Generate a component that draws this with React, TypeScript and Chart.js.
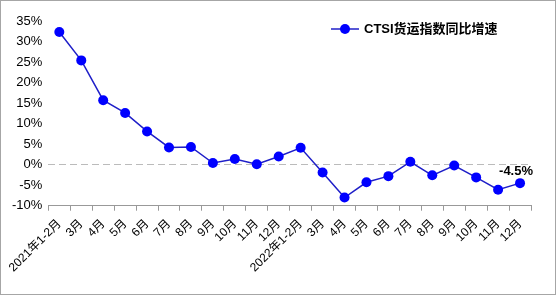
import React, { useEffect, useRef } from "react";
import { Chart, registerables } from "chart.js";
Chart.register(...registerables);

const categories = [
  "2021年1-2月", "3月", "4月", "5月", "6月", "7月", "8月", "9月", "10月", "11月", "12月",
  "2022年1-2月", "3月", "4月", "5月", "6月", "7月", "8月", "9月", "10月", "11月", "12月",
];
const growth = [
  32.3, 25.4, 15.7, 12.6, 8.1, 4.2, 4.3, 0.4, 1.4, 0.1, 2.0,
  4.1, -1.9, -8.0, -4.3, -2.8, 0.7, -2.6, -0.2, -3.1, -6.1, -4.5,
];
const yMin = -10;
const yMax = 35;
const yStep = 5;
const seriesName = "CTSI货运指数同比增速";
const lastLabel = "-4.5%";

const FONT = "Arial, 'Liberation Sans', 'Noto Sans CJK SC', sans-serif";

export default function App() {
  const ref = useRef<HTMLCanvasElement | null>(null);
  useEffect(() => {
    const canvas = ref.current!;
    const overlay = {
      id: "overlay",
      afterDraw(chart: any) {
        const ctx = chart.ctx;
        const area = chart.chartArea;
        ctx.save();
        // legend
        const lx = area.right - 200;
        const ly = 28;
        ctx.strokeStyle = "#1f1fc8";
        ctx.lineWidth = 1.5;
        ctx.beginPath();
        ctx.moveTo(lx, ly);
        ctx.lineTo(lx + 28, ly);
        ctx.stroke();
        ctx.fillStyle = "#0000ff";
        ctx.beginPath();
        ctx.arc(lx + 14, ly, 5, 0, Math.PI * 2);
        ctx.fill();
        ctx.fillStyle = "#000";
        ctx.font = `bold 13px ${FONT}`;
        ctx.textAlign = "left";
        ctx.textBaseline = "middle";
        ctx.fillText(seriesName, lx + 33, ly);
        // last value label
        const meta = chart.getDatasetMeta(0);
        const pt = meta.data[meta.data.length - 1];
        ctx.textAlign = "center";
        ctx.textBaseline = "middle";
        ctx.font = `bold 13px ${FONT}`;
        ctx.fillText(lastLabel, pt.x - 4, pt.y - 12);
        ctx.restore();
      },
    };
    const chart = new Chart(canvas, {
      type: "line",
      data: {
        labels: categories,
        datasets: [
          {
            label: seriesName,
            data: growth,
            borderColor: "#1f1fc8",
            borderWidth: 1.5,
            pointRadius: 5,
            pointBackgroundColor: "#0000ff",
            pointBorderColor: "#0000ff",
            pointBorderWidth: 0,
            tension: 0,
          },
        ],
      },
      options: {
        responsive: false,
        animation: false,
        layout: { padding: { top: 20, left: 5, right: 24, bottom: 13 } },
        plugins: { legend: { display: false }, tooltip: { enabled: false } },
        scales: {
          x: {
            type: "category",
            offset: true,
            grid: {
              offset: true,
              drawOnChartArea: false,
              drawTicks: true,
              tickLength: 5,
              color: "#999",
            },
            border: { display: true, color: "#999" },
            ticks: {
              autoSkip: false,
              maxRotation: 45,
              minRotation: 45,
              color: "#000",
              font: { size: 12, family: FONT },
              padding: 6,
            },
          },
          y: {
            min: yMin,
            max: yMax,
            grid: {
              drawTicks: false,
              color: (c: any) => (c.tick && c.tick.value === 0 ? "#bbb" : "rgba(0,0,0,0)"),
              lineWidth: 1,
            },
            border: { display: false, dash: [7, 4] },
            ticks: {
              stepSize: yStep,
              color: "#000",
              font: { size: 13, family: FONT },
              padding: 6,
              callback: (v: any) => `${v}%`,
            },
          },
        },
      },
      plugins: [overlay],
    });
    return () => chart.destroy();
  }, []);
  return (
    <div
      style={{
        position: "absolute",
        left: 0,
        top: 0,
        width: 556,
        height: 295,
        boxSizing: "border-box",
        border: "1px solid #a6a6a6",
        background: "#fff",
      }}
    >
      <canvas ref={ref} width={554} height={293} style={{ display: "block" }} />
    </div>
  );
}
